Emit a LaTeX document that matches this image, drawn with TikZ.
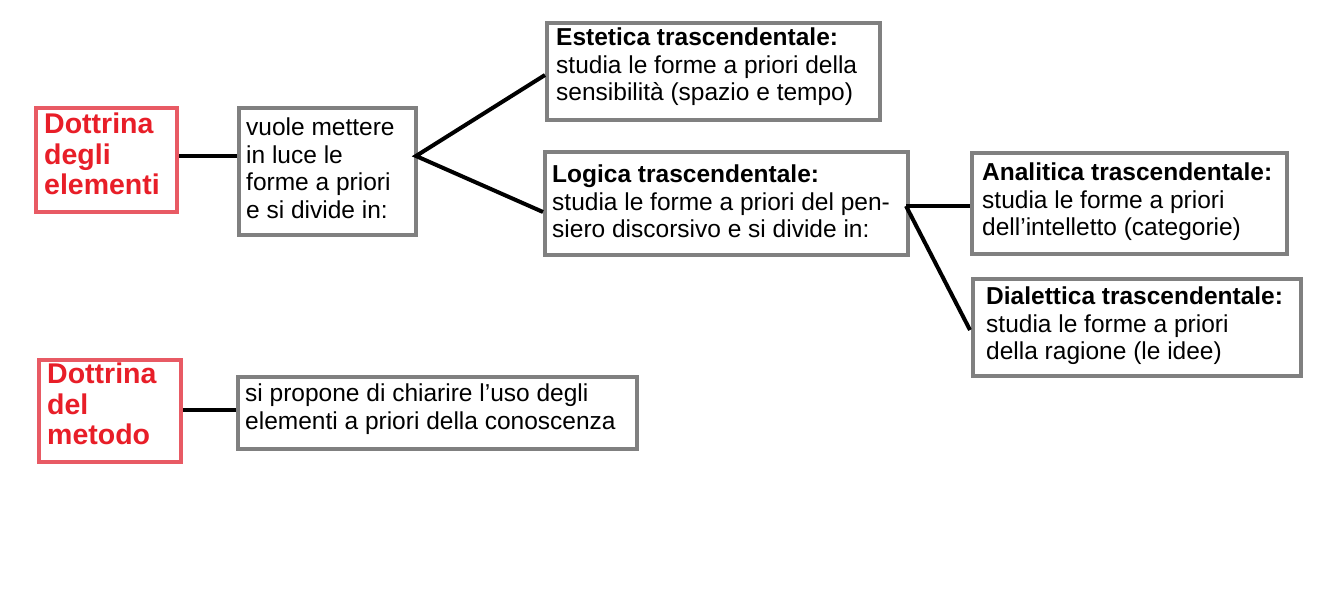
\documentclass[tikz,border=0pt]{standalone}
\usepackage{fontspec}
\setmainfont{Liberation Sans}
\begin{document}
\begin{tikzpicture}[x=1pt,y=-1pt,
  box/.style={draw=boxgray,line width=4pt,inner sep=0pt,anchor=north west},
  rbox/.style={draw=boxred,line width=4pt,inner sep=0pt,anchor=north west},
  txt/.style={anchor=north west,inner sep=0pt,align=left,font=\fontsize{24.5}{27.5}\selectfont},
  rtxt/.style={anchor=north west,inner sep=0pt,align=left,text=textred,font=\fontsize{28.5}{30.5}\selectfont\bfseries},
  conn/.style={line width=4pt,black}]
\definecolor{boxgray}{RGB}{128,128,128}
\definecolor{boxred}{RGB}{232,90,100}
\definecolor{textred}{RGB}{232,30,40}
\useasboundingbox (0,0) rectangle (1341,605);
\fill[white] (0,0) rectangle (1341,605);
% boxes
\node[rbox,minimum width=141pt,minimum height=104pt] (d1) at (34,106) {};
\node[box,minimum width=177pt,minimum height=127pt] (v) at (237,106) {};
\node[box,minimum width=333pt,minimum height=97pt] (e) at (545,21) {};
\node[box,minimum width=363pt,minimum height=103pt] (l) at (543,150) {};
\node[box,minimum width=315pt,minimum height=101pt] (a) at (970,151) {};
\node[box,minimum width=328pt,minimum height=97pt] (di) at (971,277) {};
\node[rbox,minimum width=142pt,minimum height=102pt] (d2) at (37,358) {};
\node[box,minimum width=399pt,minimum height=72pt] (s) at (236,375) {};
% texts
\node[rtxt] (t1) at (44,113) {Dottrina\\degli\\elementi};
\node[txt] (t2) at (246,118) {vuole mettere\\in luce le\\forme a priori\\e si divide in:};
\node[txt] (t3) at (556,28) {\textbf{Estetica trascendentale:}\\studia le forme a priori della\\sensibilità (spazio e tempo)};
\node[txt] (t4) at (552,165) {\textbf{Logica trascendentale:}\\studia le forme a priori del pen-\\siero discorsivo e si divide in:};
\node[txt] (t5) at (982,163) {\textbf{Analitica trascendentale:}\\studia le forme a priori\\dell'intelletto (categorie)};
\node[txt] (t6) at (986,287) {\textbf{Dialettica trascendentale:}\\studia le forme a priori\\della ragione (le idee)};
\node[rtxt] (t7) at (47,363) {Dottrina\\del\\metodo};
\node[txt] (t8) at (245,384) {si propone di chiarire l'uso degli\\elementi a priori della conoscenza};
% connectors
\coordinate (f1) at (416,156);
\coordinate (f2) at (906,206);
\coordinate (f3) at (970,330);
\draw[conn] (d1.east |- f1) -- (v.west |- f1);
\draw[conn] (e.west |- 0,75) -- (f1) -- (l.west |- 0,212);
\draw[conn] (f2) -- (a.west |- f2);
\draw[conn] (f2) -- (f3);
\draw[conn] (d2.east |- 0,410) -- (s.west |- 0,410);
\end{tikzpicture}
\end{document}
